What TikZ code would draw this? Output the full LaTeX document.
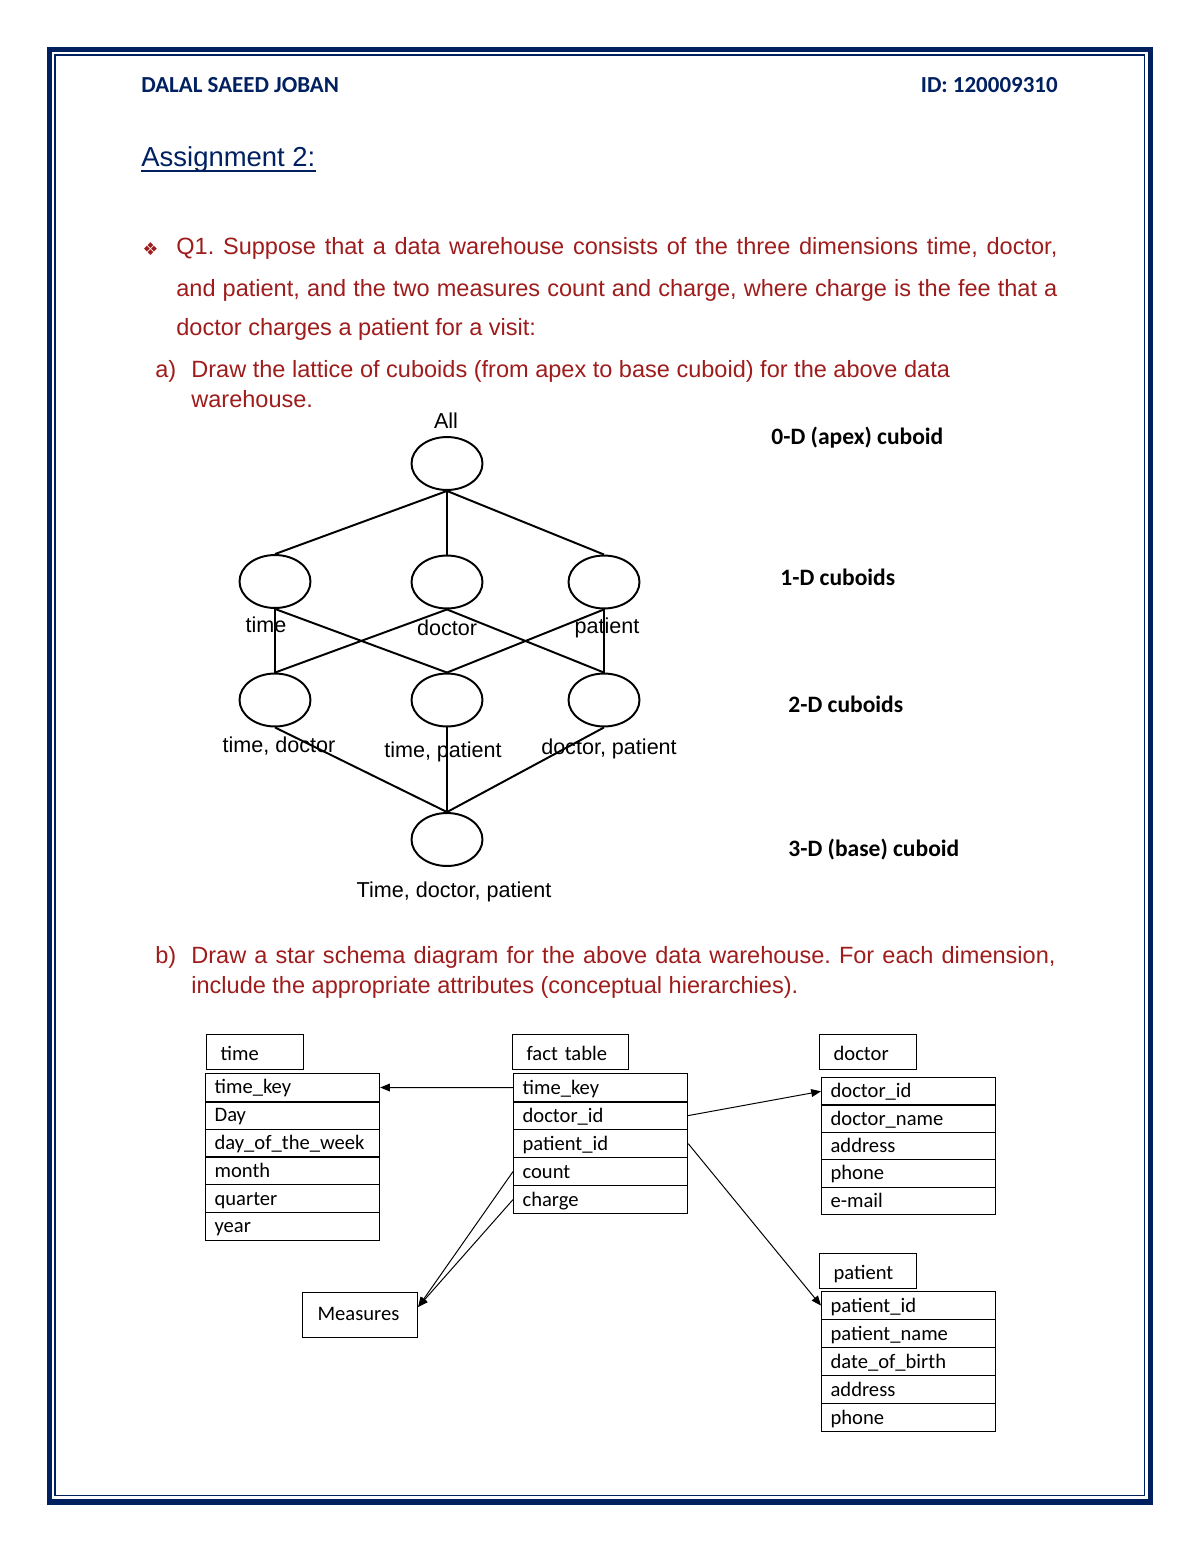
\documentclass[tikz,border=0pt]{standalone}
\usepackage{fontspec}
\setmainfont{Liberation Sans}
\newfontfamily\calibri{Carlito}
\newfontfamily\dejavu{DejaVu Sans}
\usetikzlibrary{shapes.geometric,arrows.meta}
\definecolor{navy}{HTML}{002060}
\definecolor{qred}{RGB}{158,28,28}
\frenchspacing
\begin{document}
\begin{tikzpicture}[x=0.51pt,y=-0.51pt,
  txt/.style={inner sep=0pt, anchor=base west},
  qtxt/.style={txt, text=qred, font=\fontsize{12}{14}\selectfont},
  cub/.style={ellipse, draw, line width=1pt, minimum width=36.2pt, minimum height=27pt, inner sep=0pt},
  latedge/.style={line width=1pt},
  lbl/.style={inner sep=0pt, anchor=base, font=\fontsize{11}{13}\selectfont},
  side/.style={inner sep=0pt, anchor=base west, font=\calibri\bfseries\fontsize{12}{14}\selectfont},
  tbl/.style={draw, line width=0.6pt, anchor=north west, inner ysep=0pt, align=left, font=\calibri\fontsize{10.5}{12.5}\selectfont},
  row/.style={tbl, inner xsep=4.59pt, text width=79.56pt, text height=8pt, text depth=1.4pt},
  hdr/.style={tbl, inner xsep=7.14pt, minimum height=17.85pt, text height=9pt, text depth=0pt},
  conn/.style={line width=0.5pt, -{Triangle[length=5pt,width=4pt]}}
]
\useasboundingbox (0,0) rectangle (1200,1553);
% page border
\draw[navy, line width=2.8pt] (49.5,49.5) rectangle (1150.5,1502);
\draw[navy, line width=0.9pt] (55,55) rectangle (1144.5,1495.5);

% header
\node[txt, text=navy, font=\calibri\bfseries\fontsize{11.7}{13}\selectfont] (name) at (141,93) {DALAL SAEED JOBAN};
\node[inner sep=0pt, anchor=base east, text=navy, font=\calibri\bfseries\fontsize{11.7}{13}\selectfont] (sid) at (1058,93) {ID: 120009310};
\node[txt, text=navy, font=\fontsize{14}{16}\selectfont] (asg) at (141,167) {Assignment 2:};
\draw[navy, line width=0.8pt] ([yshift=-2pt]asg.base west) -- ([yshift=-2pt]asg.base east);

% question text
\node[inner sep=0pt, text=qred, font=\dejavu\fontsize{9}{11}\selectfont] (bul) at (150.5,249) {❖};
\node[qtxt] (q1) at (176,255) {\makebox[449.3pt][s]{Q1. Suppose that a data warehouse consists of the three dimensions time, doctor,}};
\node[qtxt] (q2) at (176,296) {\makebox[449.3pt][s]{and patient, and the two measures count and charge, where charge is the fee that a}};
\node[qtxt] (q3) at (176,335) {doctor charges a patient for a visit:};
\node[qtxt] (qa) at (155,377) {a)};
\node[qtxt] (qa1) at (191,377) {Draw the lattice of cuboids (from apex to base cuboid) for the above data};
\node[qtxt] (qa2) at (191,407) {warehouse.};
\node[qtxt] (qb) at (155,963) {b)};
\node[qtxt] (qb1) at (191,963) {\makebox[440.7pt][s]{Draw a star schema diagram for the above data warehouse. For each dimension,}};
\node[qtxt] (qb2) at (191,993) {include the appropriate attributes (conceptual hierarchies).};

% lattice
\node[cub] (apex) at (447,463.5) {};
\node[cub] (ti) at (275,581.5) {};
\node[cub] (do) at (447,582) {};
\node[cub] (pa) at (604,582) {};
\node[cub] (td) at (275,700) {};
\node[cub] (tp) at (447,700) {};
\node[cub] (dp) at (604,700) {};
\node[cub] (bs) at (447,839.5) {};

\node[lbl] (lall) at (446,428) {All};
\node[lbl] (lti) at (266,632) {time};
\node[lbl] (ldo) at (447,635) {doctor};
\node[lbl] (lpa) at (607,633) {patient};
\node[lbl] (ltd) at (279,752) {time, doctor};
\node[lbl] (ltp) at (443,757) {time, patient};
\node[lbl] (ldp) at (609,754) {doctor, patient};
\node[lbl] (lbs) at (454,897) {Time, doctor, patient};

\draw[latedge] (apex.south) -- (ti.north);
\draw[latedge] (apex.south) -- (do.north);
\draw[latedge] (apex.south) -- (pa.north);
\draw[latedge] (ti.south) -- (td.north);
\draw[latedge] (ti.south) -- (tp.north);
\draw[latedge] (do.south) -- (td.north);
\draw[latedge] (do.south) -- (dp.north);
\draw[latedge] (pa.south) -- (tp.north);
\draw[latedge] (pa.south) -- (dp.north);
\draw[latedge] (td.south) -- (bs.north);
\draw[latedge] (tp.south) -- (bs.north);
\draw[latedge] (dp.south) -- (bs.north);

\node[side] (s0) at (771,444) {0-D (apex) cuboid};
\node[side] (s1) at (780,585) {1-D cuboids};
\node[side] (s2) at (788,712) {2-D cuboids};
\node[side] (s3) at (788,856) {3-D (base) cuboid};

% star schema
\node[hdr, minimum width=49.47pt, text width=35.19pt] (th) at (206,1034) {time};
\node[hdr, minimum width=59.16pt, text width=44.88pt] (fh) at (512,1034) {fact~table};
\node[hdr, minimum width=49.47pt, text width=35.19pt] (dh) at (819,1034) {doctor};
\node[hdr, minimum width=49.47pt, text width=35.19pt] (ph) at (819,1253) {patient};

\foreach \t [count=\i] in {time\_key, Day, day\_of\_the\_week, month, quarter, year}
  \node[row, minimum height=14.18pt] (t\i) at (205,{1073+(\i-1)*27.8}) {\t};
\foreach \t [count=\i] in {time\_key, doctor\_id, patient\_id, count, charge}
  \node[row, minimum height=14.28pt] (f\i) at (513,{1073+(\i-1)*28}) {\t};
\foreach \t [count=\i] in {doctor\_id, doctor\_name, address, phone, e-mail}
  \node[row, minimum height=13.97pt] (d\i) at (821,{1077+(\i-1)*27.4}) {\t};
\foreach \t [count=\i] in {patient\_id, patient\_name, date\_of\_birth, address, phone}
  \node[row, minimum height=14.28pt] (p\i) at (821,{1291+(\i-1)*28}) {\t};

\draw[line width=1.2pt] (t1.south west) -- (t1.south east);
\draw[line width=1.2pt] (f1.south west) -- (f1.south east);

\node[tbl, inner xsep=7.65pt, minimum width=58.65pt, text width=43.35pt, minimum height=22.95pt, text height=8pt, text depth=2.4pt] (meas) at (302,1292) {Measures};

\draw[conn] (f1.west) -- (t1.east);
\draw[conn] (f2.east) -- (d1.west);
\draw[conn] (f3.east) -- (p1.west);
\draw[conn] (f4.west) -- (meas.8);
\draw[conn] (f5.west) -- (meas.8);
\end{tikzpicture}
\end{document}
